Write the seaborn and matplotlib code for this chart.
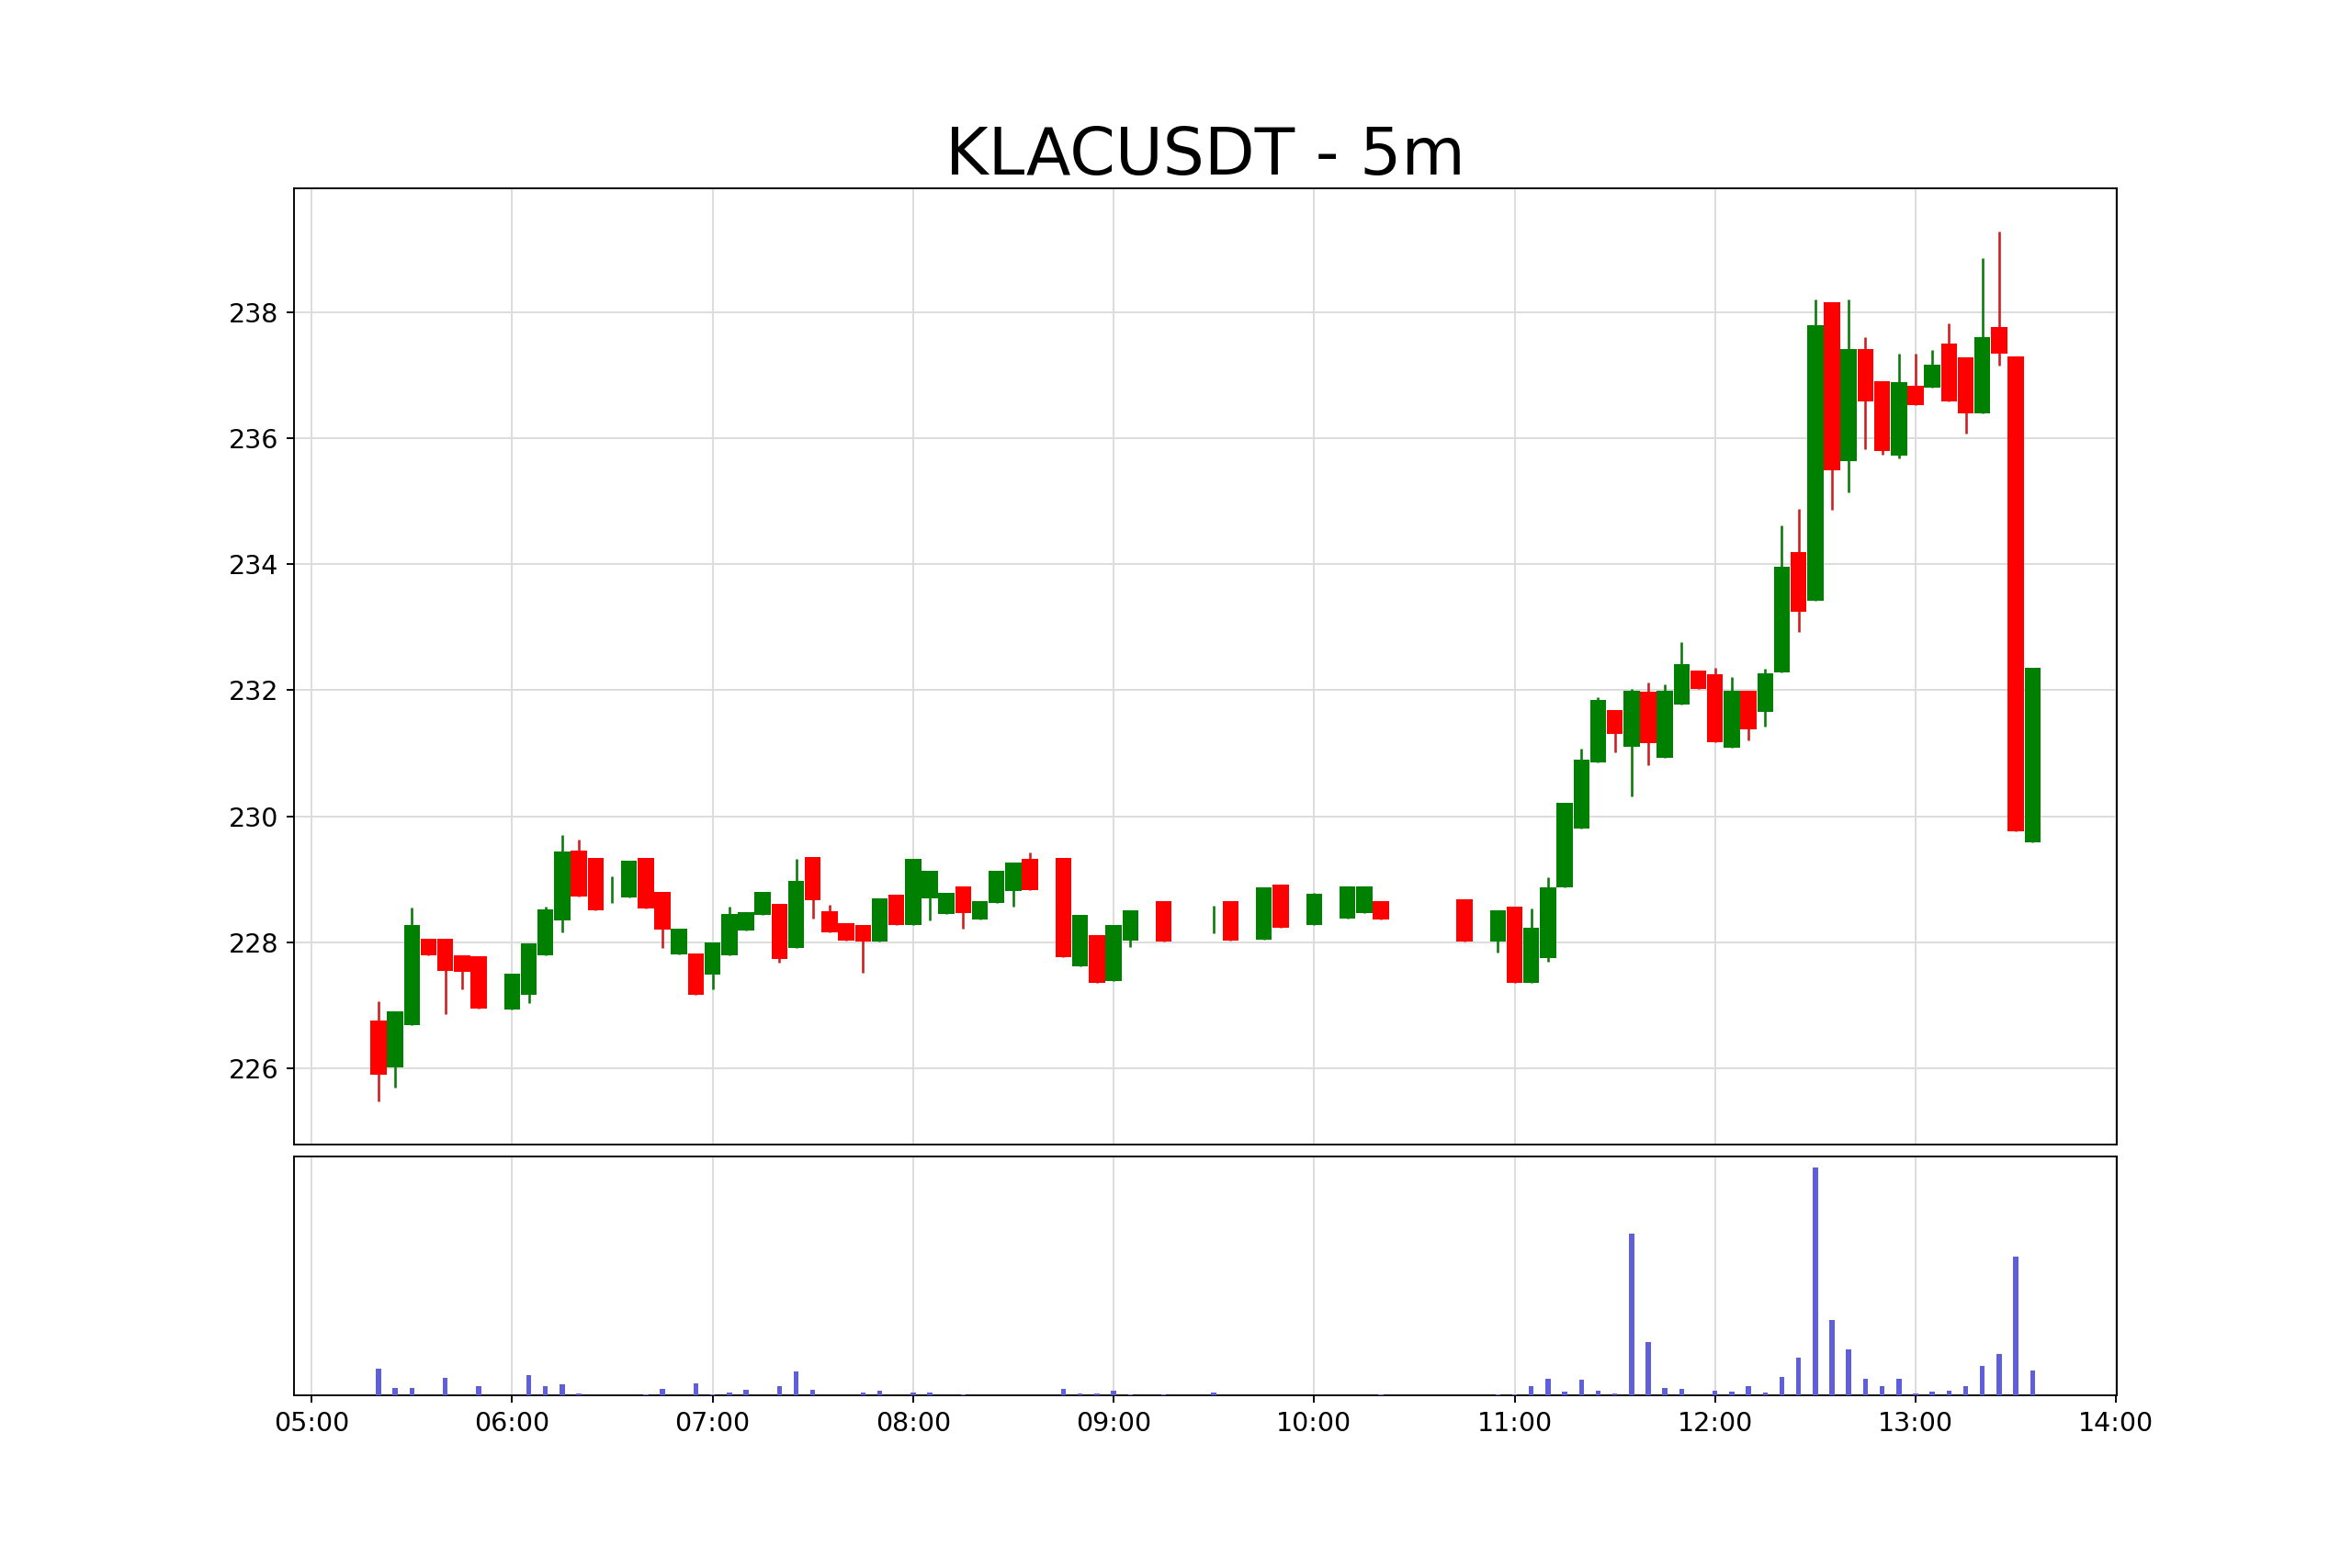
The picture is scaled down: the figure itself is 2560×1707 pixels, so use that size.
import numpy as np
import pandas as pd
import seaborn as sns
from matplotlib import pyplot as plt
import matplotlib.dates as mdates

# 5m candles, KLACUSDT (gaps = no trades)
times = ['05:20', '05:25', '05:30', '05:35', '05:40', '05:45', '05:50',
         '06:00', '06:05', '06:10', '06:15', '06:20', '06:25', '06:30', '06:35', '06:40', '06:45', '06:50', '06:55',
         '07:00', '07:05', '07:10', '07:15', '07:20', '07:25', '07:30', '07:35', '07:40', '07:45', '07:50', '07:55',
         '08:00', '08:05', '08:10', '08:15', '08:20', '08:25', '08:30', '08:35', '08:45', '08:50', '08:55',
         '09:00', '09:05', '09:15', '09:30', '09:35', '09:45', '09:50',
         '10:00', '10:10', '10:15', '10:20', '10:45', '10:55',
         '11:00', '11:05', '11:10', '11:15', '11:20', '11:25', '11:30', '11:35', '11:40', '11:45', '11:50', '11:55',
         '12:00', '12:05', '12:10', '12:15', '12:20', '12:25', '12:30', '12:35', '12:40', '12:45', '12:50', '12:55',
         '13:00', '13:05', '13:10', '13:15', '13:20', '13:25', '13:30', '13:35']

opens = [226.76, 226.01, 226.69, 228.06, 228.05, 227.79, 227.78,
         226.93, 227.16, 227.80, 228.35, 229.45, 229.34, 228.80, 228.71, 229.34, 228.80, 227.81, 227.82,
         227.48, 227.80, 228.18, 228.44, 228.61, 227.91, 229.35, 228.49, 228.31, 228.27, 228.01, 228.75,
         228.27, 228.69, 228.45, 228.88, 228.36, 228.62, 228.81, 229.33, 229.34, 227.62, 228.12,
         227.39, 228.03, 228.66, 228.36, 228.65, 228.04, 228.91,
         228.28, 228.37, 228.47, 228.65, 228.68, 228.01,
         228.56, 227.35, 227.75, 228.87, 229.80, 230.85, 231.69, 231.10, 231.98, 230.93, 231.78, 232.31,
         232.26, 231.09, 231.99, 231.65, 232.29, 234.20, 233.42, 238.16, 235.64, 237.41, 236.91, 235.72,
         236.83, 236.81, 237.50, 237.28, 236.40, 237.76, 237.30, 229.58]

highs = [227.07, 226.91, 228.55, 228.06, 228.05, 227.79, 227.78,
         227.50, 227.98, 228.56, 229.70, 229.63, 229.34, 229.04, 229.30, 229.34, 228.80, 228.21, 227.82,
         228.00, 228.56, 228.48, 228.80, 228.61, 229.32, 229.35, 228.59, 228.31, 228.27, 228.69, 228.75,
         229.33, 229.14, 228.78, 228.88, 228.66, 229.13, 229.26, 229.43, 229.34, 228.43, 228.12,
         228.28, 228.50, 228.66, 228.58, 228.65, 228.87, 228.91,
         228.79, 228.88, 228.89, 228.65, 228.68, 228.50,
         228.56, 228.53, 229.03, 230.21, 231.08, 231.89, 231.69, 232.02, 232.12, 232.09, 232.77, 232.31,
         232.36, 232.21, 231.99, 232.34, 234.61, 234.88, 238.20, 238.16, 238.20, 237.61, 236.91, 237.35,
         237.35, 237.40, 237.82, 237.28, 238.86, 239.28, 237.30, 232.35]

lows = [225.48, 225.70, 226.69, 227.80, 226.86, 227.25, 226.95,
        226.93, 227.04, 227.80, 228.16, 228.72, 228.51, 228.62, 228.71, 228.54, 227.91, 227.81, 227.16,
        227.26, 227.80, 228.18, 228.44, 227.68, 227.91, 228.37, 228.16, 228.02, 227.52, 228.01, 228.27,
        228.27, 228.34, 228.45, 228.22, 228.36, 228.62, 228.56, 228.83, 227.77, 227.62, 227.35,
        227.39, 227.93, 228.01, 228.14, 228.02, 228.04, 228.23,
        228.28, 228.37, 228.47, 228.36, 228.01, 227.84,
        227.35, 227.35, 227.69, 228.87, 229.80, 230.85, 231.01, 230.32, 230.81, 230.93, 231.78, 232.02,
        231.17, 231.09, 231.20, 231.42, 232.29, 232.92, 233.42, 234.87, 235.14, 235.83, 235.74, 235.68,
        236.52, 236.81, 236.58, 236.08, 236.40, 237.15, 229.76, 229.58]

closes = [225.90, 226.91, 228.27, 227.80, 227.55, 227.53, 226.95,
          227.50, 227.98, 228.52, 229.44, 228.72, 228.51, 228.80, 229.30, 228.54, 228.20, 228.21, 227.16,
          228.00, 228.45, 228.48, 228.80, 227.74, 228.97, 228.67, 228.16, 228.02, 228.01, 228.69, 228.27,
          229.33, 229.14, 228.78, 228.47, 228.66, 229.13, 229.26, 228.83, 227.77, 228.43, 227.35,
          228.28, 228.50, 228.01, 228.36, 228.02, 228.87, 228.23,
          228.77, 228.88, 228.89, 228.36, 228.01, 228.50,
          227.35, 228.23, 228.87, 230.21, 230.90, 231.84, 231.31, 231.99, 231.16, 231.99, 232.42, 232.02,
          231.17, 231.99, 231.38, 232.27, 233.96, 233.25, 237.79, 235.49, 237.41, 236.58, 235.80, 236.89,
          236.52, 237.17, 236.58, 236.40, 237.61, 237.35, 229.76, 232.35]

volumes = [87, 25, 25, 2, 58, 2, 30,
           2, 66, 30, 37, 7, 2, 1, 1, 3, 22, 1, 40,
           3, 10, 20, 1, 30, 80, 18, 2, 1, 10, 15, 1,
           11, 11, 1, 4, 1, 1, 1, 1, 21, 7, 7,
           16, 4, 4, 10, 1, 1, 1,
           1, 1, 1, 3, 1, 3,
           3, 30, 55, 13, 52, 15, 6, 529, 175, 25, 22, 2,
           15, 13, 30, 10, 60, 124, 742, 247, 151, 55, 30, 55,
           7, 13, 16, 30, 96, 136, 454, 81]

df = pd.DataFrame({'time': pd.to_datetime(['2024-05-10 ' + t for t in times]),
                   'open': opens, 'high': highs, 'low': lows, 'close': closes, 'volume': volumes})
df['x'] = mdates.date2num(df['time'])
up = df['close'] >= df['open']

sns.set_style('white')
plt.rcParams['font.family'] = ['DejaVu Sans']
plt.rcParams['text.color'] = 'black'
plt.rcParams['xtick.color'] = 'black'
plt.rcParams['ytick.color'] = 'black'
plt.rcParams['axes.labelcolor'] = 'black'

fig = plt.figure(figsize=(15, 10))
gs = fig.add_gridspec(2, 1, height_ratios=[4, 1], hspace=0.02)
ax = fig.add_subplot(gs[0])
ax2 = fig.add_subplot(gs[1], sharex=ax)

five_min = 5 / 1440
body_w = 0.96 * five_min
colors = np.where(up, 'green', 'red')
wick_colors = np.where(up, '#0a7a0a', '#cc1f1f')

ax.vlines(df['x'], df['low'], df['high'], colors=wick_colors, linewidth=1.1, zorder=2)
ax.bar(df['x'], (df['close'] - df['open']).abs(), bottom=df[['open', 'close']].min(axis=1),
       width=body_w, color=colors, linewidth=0, zorder=3)

span = df['high'].max() - df['low'].min()
ax.set_ylim(df['low'].min() - 0.05 * span, df['high'].max() + 0.05 * span)
xspan = df['x'].max() - df['x'].min()
ax.set_xlim(df['x'].min() - 0.051 * xspan, df['x'].max() + 0.0512 * xspan)

ax.set_yticks(np.arange(226, 239, 2))
ax.grid(True, color='#dcdcdc', linewidth=0.8)
ax.tick_params(axis='x', bottom=False, labelbottom=False)
ax.tick_params(axis='y', left=True, length=3.5, width=0.8, labelsize=12)
ax.set_title('KLACUSDT - 5m', fontsize=30, color='black')

ax2.bar(df['x'], df['volume'], width=1.5 / 1440, color='#5f5fdc', linewidth=0, zorder=3)
ax2.set_yticks([])
ax2.grid(True, axis='x', color='#dcdcdc', linewidth=0.8)
ax2.xaxis.set_major_locator(mdates.HourLocator())
ax2.xaxis.set_major_formatter(mdates.DateFormatter('%H:%M'))
ax2.tick_params(axis='x', bottom=True, length=3.5, width=0.8, labelsize=12)

for a in (ax, ax2):
    for s in a.spines.values():
        s.set_visible(True)
        s.set_color('black')
        s.set_linewidth(0.8)

fig.savefig('out.png', dpi=170.7)
